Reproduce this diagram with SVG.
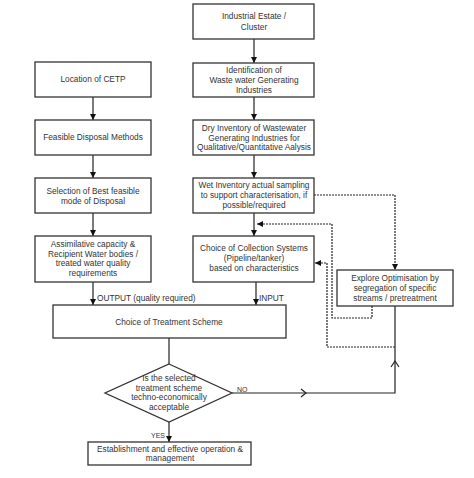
<svg xmlns="http://www.w3.org/2000/svg" width="474" height="478" viewBox="0 0 474 478">
<defs>
<style>
.box{fill:#fff;stroke:#333;stroke-width:1.3}
.ln{fill:none;stroke:#222;stroke-width:1.2}
.dot{fill:none;stroke:#222;stroke-width:1.2;stroke-dasharray:2 1}
.open{fill:none;stroke:#222;stroke-width:1.2}
text{font-family:"Liberation Sans",Arial,sans-serif;font-size:8.3px;fill:#333;text-anchor:middle}
.lbl{text-anchor:start}
</style>
<marker id="ah" viewBox="0 0 10 10" refX="10" refY="5" markerWidth="6" markerHeight="6" markerUnits="userSpaceOnUse" orient="auto">
<path d="M0,0 L10,5 L0,10 z" fill="#111"/>
</marker>
</defs>
<rect width="474" height="478" fill="#fff"/>
<g id="connectors">
<line class="ln" x1="254" y1="39" x2="254" y2="63" marker-end="url(#ah)"/>
<line class="ln" x1="254" y1="97" x2="254" y2="120" marker-end="url(#ah)"/>
<line class="ln" x1="254" y1="155" x2="254" y2="178" marker-end="url(#ah)"/>
<line class="ln" x1="254" y1="213" x2="254" y2="236" marker-end="url(#ah)"/>
<line class="ln" x1="256" y1="282" x2="256" y2="305" marker-end="url(#ah)"/>
<line class="ln" x1="93" y1="97" x2="93" y2="120" marker-end="url(#ah)"/>
<line class="ln" x1="93" y1="155" x2="93" y2="178" marker-end="url(#ah)"/>
<line class="ln" x1="93" y1="213" x2="93" y2="236" marker-end="url(#ah)"/>
<line class="ln" x1="93" y1="282" x2="93" y2="305" marker-end="url(#ah)"/>
<line class="ln" x1="169" y1="338" x2="169" y2="364"/>
<line class="ln" x1="169" y1="422" x2="169" y2="442" marker-end="url(#ah)"/>
<polyline class="ln" points="232,393 395,393 395,306"/>
<polyline class="open" points="301,389 306,393 301,397"/>
<polyline class="open" points="391,367 395,361 399,367"/>
<polyline class="dot" points="314,195 395,195 395,270" marker-end="url(#ah)"/>
<polyline class="dot" points="372,306 372,318 332,318 332,224 257,224" marker-end="url(#ah)"/>
<polyline class="dot" points="395,347 327,347 327,263 315,263" marker-end="url(#ah)"/>
<text class="lbl" x="97" y="301">OUTPUT (quality required)</text>
<text class="lbl" x="259" y="301">INPUT</text>
<text class="lbl" x="237" y="392" style="font-size:7px">NO</text>
<text class="lbl" x="151" y="438" style="font-size:7px">YES</text>
</g>
<g id="n_estate">
<rect class="box" x="193" y="4" width="121" height="35"/>
<text x="254" y="19">Industrial Estate /</text>
<text x="254" y="30">Cluster</text>
</g>
<g id="n_ident">
<rect class="box" x="193" y="63" width="121" height="34"/>
<text x="254" y="73">Identification of</text>
<text x="254" y="83">Waste water Generating</text>
<text x="254" y="92.5">Industries</text>
</g>
<g id="n_dry">
<rect class="box" x="193" y="120" width="121" height="35"/>
<text x="254" y="130.5">Dry Inventory of Wastewater</text>
<text x="254" y="140.5">Generating Industries for</text>
<text x="254" y="150">Qualitative/Quantitative Aalysis</text>
</g>
<g id="n_wet">
<rect class="box" x="193" y="178" width="121" height="35"/>
<text x="254" y="188">Wet Inventory actual sampling</text>
<text x="254" y="198">to support characterisation, if</text>
<text x="254" y="207.5">possible/required</text>
</g>
<g id="n_collect">
<rect class="box" x="193" y="236" width="121" height="46"/>
<text x="254" y="251">Choice of Collection Systems</text>
<text x="254" y="261">(Pipeline/tanker)</text>
<text x="254" y="271">based on characteristics</text>
</g>
<g id="n_location">
<rect class="box" x="35" y="62" width="116" height="35"/>
<text x="93" y="82">Location of CETP</text>
</g>
<g id="n_feasible">
<rect class="box" x="35" y="120" width="116" height="35"/>
<text x="93" y="140">Feasible Disposal Methods</text>
</g>
<g id="n_selection">
<rect class="box" x="35" y="178" width="116" height="35"/>
<text x="93" y="194">Selection of Best feasible</text>
<text x="93" y="203.5">mode of Disposal</text>
</g>
<g id="n_assim">
<rect class="box" x="35" y="236" width="116" height="46"/>
<text x="93" y="247">Assimilative capacity &amp;</text>
<text x="93" y="256.5">Recipient Water bodies /</text>
<text x="93" y="266">treated water quality</text>
<text x="93" y="276">requirements</text>
</g>
<g id="n_treatment">
<rect class="box" x="53" y="305" width="233" height="33"/>
<text x="169" y="325">Choice of Treatment Scheme</text>
</g>
<g id="n_explore">
<rect class="box" x="337" y="270" width="116" height="36"/>
<text x="395" y="281">Explore Optimisation by</text>
<text x="395" y="291">segregation of specific</text>
<text x="395" y="300.5">streams / pretreatment</text>
</g>
<g id="n_decision">
<polygon class="box" points="169,364 232,393 169,422 105,393"/>
<text x="169" y="381">Is the selected</text>
<text x="169" y="390.5">treatment scheme</text>
<text x="169" y="400">techno-economically</text>
<text x="169" y="410">acceptable</text>
</g>
<g id="n_establish">
<rect class="box" x="88" y="442" width="163" height="23"/>
<text x="170" y="451.5">Establishment and effective operation &amp;</text>
<text x="170" y="461">management</text>
</g>
</svg>
